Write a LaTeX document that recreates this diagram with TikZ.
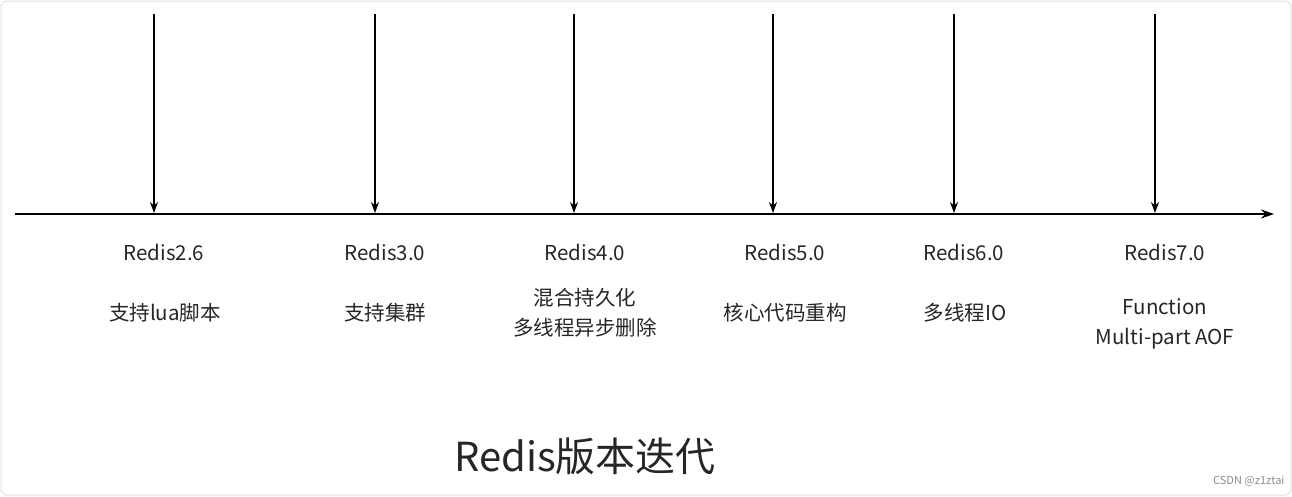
\documentclass[tikz,border=0pt]{standalone}
\usepackage{fontspec}
\setmainfont{Noto Sans CJK SC}
\usetikzlibrary{arrows.meta}
\begin{document}
\begin{tikzpicture}[x=1pt,y=-1pt,
  lbl/.style={font=\fontsize{20.5}{30}\selectfont,align=center,text=black!85},
  varrow/.style={-{Stealth[length=11pt,width=8pt]},line width=1.2pt}]
\useasboundingbox (0,0) rectangle (1292,496);
\draw[black!12,line width=1pt,rounded corners=6pt] (1,1) rectangle (1291,495);
\coordinate (s) at (15,214);
\coordinate (e) at (1274,214);
\draw[-{Stealth[length=13pt,width=9pt]},line width=1.2pt] (s) -- (e);
\foreach \x/\n/\d/\dy in {165/a/支持lua脚本/313, 385/b/支持集群/313, 585/c/混合持久化\\多线程异步删除/313, 785/d/核心代码重构/313, 965/f/多线程IO/313, 1165/g/Function\\Multi-part AOF/324}{
  \node[lbl] (d\n) at (\x,\dy) {\d};
}
\foreach \x/\n in {154/a, 375/b, 574/c, 773/d, 954/f, 1155/g}{
  \coordinate (t\n) at (\x,14);
  \coordinate (b\n) at (\x,213);
  \draw[varrow] (t\n) -- (b\n);
}
\foreach \x/\n/\v in {164/a/2.6, 385/b/3.0, 585/c/4.0, 785/d/5.0, 964/f/6.0, 1165/g/7.0}{
  \node[lbl] (v\n) at (\x,252) {Redis\v};
}
\node[font=\fontsize{40}{46}\selectfont,text=black!85] (title) at (585,456) {Redis版本迭代};
\node[font=\fontsize{11}{13}\selectfont,text=black!45,anchor=east] (wm) at (1288,481) {CSDN @z1ztai};
\end{tikzpicture}
\end{document}
